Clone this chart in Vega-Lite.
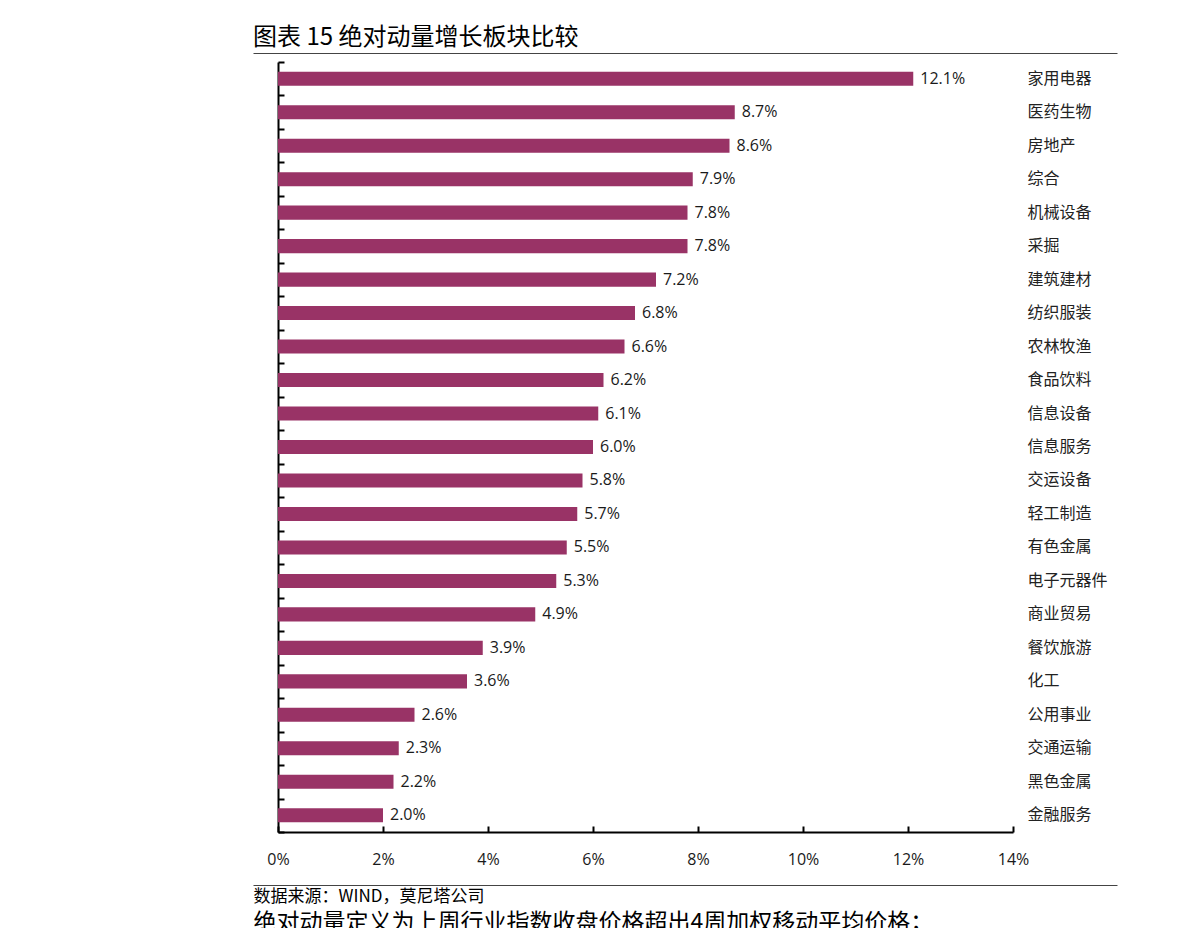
{
  "$schema": "https://vega.github.io/schema/vega-lite/v6.json",
  "width": 864,
  "height": 770,
  "autosize": {"type": "none"},
  "padding": {"left": 253, "top": 62, "right": 74, "bottom": 96},
  "background": "#ffffff",
  "config": {"view": {"stroke": null}, "axis": {"grid": false}},
  "title": {
    "text": "图表 15 绝对动量增长板块比较",
    "anchor": "start",
    "frame": "group",
    "font": "Noto Sans CJK SC",
    "fontSize": 24,
    "fontWeight": "normal",
    "color": "#000000",
    "offset": 3
  },
  "data": {
    "values": [
      {"name": "家用电器", "v": 0.121},
      {"name": "医药生物", "v": 0.087},
      {"name": "房地产", "v": 0.086},
      {"name": "综合", "v": 0.079},
      {"name": "机械设备", "v": 0.078},
      {"name": "采掘", "v": 0.078},
      {"name": "建筑建材", "v": 0.072},
      {"name": "纺织服装", "v": 0.068},
      {"name": "农林牧渔", "v": 0.066},
      {"name": "食品饮料", "v": 0.062},
      {"name": "信息设备", "v": 0.061},
      {"name": "信息服务", "v": 0.060},
      {"name": "交运设备", "v": 0.058},
      {"name": "轻工制造", "v": 0.057},
      {"name": "有色金属", "v": 0.055},
      {"name": "电子元器件", "v": 0.053},
      {"name": "商业贸易", "v": 0.049},
      {"name": "餐饮旅游", "v": 0.039},
      {"name": "化工", "v": 0.036},
      {"name": "公用事业", "v": 0.026},
      {"name": "交通运输", "v": 0.023},
      {"name": "黑色金属", "v": 0.022},
      {"name": "金融服务", "v": 0.020}
    ]
  },
  "resolve": {"scale": {"x": "independent"}},
  "layer": [
    {
      "mark": {"type": "bar", "color": "#993366", "height": {"band": 0.42}},
      "encoding": {
        "y": {
          "field": "name", "type": "nominal", "sort": null,
          "scale": {"paddingInner": 0, "paddingOuter": 0},
          "axis": {
            "orient": "left", "offset": -25, "title": null, "labels": false,
            "tickBand": "extent", "tickSize": -6, "tickWidth": 2, "tickColor": "#000000",
            "domainColor": "#000000", "domainWidth": 2
          }
        },
        "x": {
          "field": "v", "type": "quantitative",
          "scale": {"domain": [0, 0.14], "range": [25, 760], "nice": false},
          "axis": {
            "orient": "bottom", "title": null, "format": ".0%",
            "values": [0, 0.02, 0.04, 0.06, 0.08, 0.1, 0.12, 0.14],
            "tickSize": -6, "tickWidth": 2, "tickColor": "#000000",
            "domainColor": "#000000", "domainWidth": 2,
            "labelPadding": 25, "labelFont": "Open Sans", "labelFontSize": 16,
            "labelColor": "#1a1a1a", "labelFlush": false
          }
        }
      }
    },
    {
      "mark": {"type": "text", "align": "left", "baseline": "middle", "dx": 7, "font": "Open Sans", "fontSize": 16, "color": "#1a1a1a"},
      "encoding": {
        "y": {
          "field": "name", "type": "nominal", "sort": null,
          "axis": {
            "orient": "right", "offset": -90, "title": null, "domain": false, "ticks": false,
            "labelPadding": 0, "labelAlign": "left", "labelFont": "Noto Sans CJK SC",
            "labelFontSize": 16, "labelColor": "#222222"
          }
        },
        "x": {
          "field": "v", "type": "quantitative",
          "scale": {"domain": [0, 0.14], "range": [25, 760], "nice": false},
          "axis": null
        },
        "text": {"field": "v", "type": "quantitative", "format": ".1%"}
      }
    },
    {
      "mark": {"type": "point", "opacity": 0},
      "encoding": {
        "x": {
          "field": "v", "type": "quantitative",
          "axis": {
            "orient": "top", "offset": 9, "title": null, "labels": false, "ticks": false,
            "domainColor": "#444444", "domainWidth": 1
          }
        }
      }
    },
    {
      "mark": {"type": "point", "opacity": 0},
      "encoding": {
        "x": {
          "field": "v", "type": "quantitative",
          "axis": {
            "orient": "bottom", "offset": 53, "labels": false, "ticks": false,
            "domainColor": "#444444", "domainWidth": 1,
            "title": "数据来源：WIND，莫尼塔公司",
            "titleAnchor": "start", "titleAlign": "left", "titleBaseline": "top",
            "titlePadding": 3, "titleFont": "Noto Sans CJK SC", "titleFontSize": 17,
            "titleFontWeight": "normal", "titleColor": "#000000"
          }
        }
      }
    },
    {
      "mark": {"type": "point", "opacity": 0},
      "encoding": {
        "x": {
          "field": "v", "type": "quantitative",
          "axis": {
            "orient": "bottom", "offset": 79, "labels": false, "ticks": false, "domain": false,
            "title": "绝对动量定义为上周行业指数收盘价格超出4周加权移动平均价格；",
            "titleAnchor": "start", "titleAlign": "left", "titleBaseline": "top",
            "titlePadding": 0, "titleFont": "Noto Sans CJK SC", "titleFontSize": 23,
            "titleFontWeight": "normal", "titleColor": "#000000"
          }
        }
      }
    }
  ]
}
